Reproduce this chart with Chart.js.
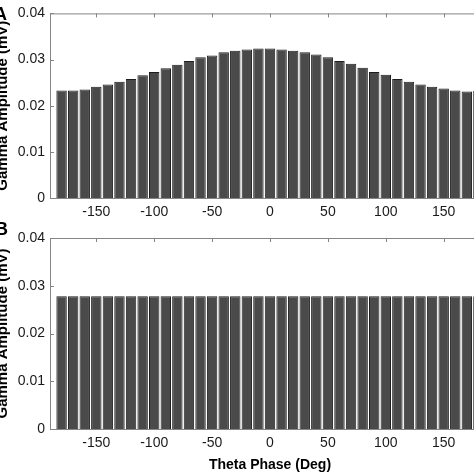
<!DOCTYPE html>
<html>
<head>
<meta charset="utf-8">
<script src="https://cdn.jsdelivr.net/npm/chart.js@4.4.1/dist/chart.umd.min.js"></script>
<style>
  html, body { margin: 0; padding: 0; background: #fff; overflow: hidden; width: 474px; height: 474px; }
  canvas { position: absolute; }
  #chartA { left: -6px; top: 0px; }
  #chartB { left: -6px; top: 216px; }
</style>
</head>
<body>
<canvas id="chartA" width="504" height="224"></canvas>
<canvas id="chartB" width="504" height="258"></canvas>
<script>
// theta phase bins (deg)
const phases = [-180, -170, -160, -150, -140, -130, -120, -110, -100, -90, -80, -70, -60, -50, -40, -30, -20, -10,
  0, 10, 20, 30, 40, 50, 60, 70, 80, 90, 100, 110, 120, 130, 140, 150, 160, 170, 180];
// panel A: gamma amplitude per phase bin (mV)
const ampA = [0.0233, 0.0233, 0.0235, 0.0241, 0.0246, 0.0252, 0.0258, 0.0266, 0.0273, 0.0281, 0.0289, 0.0297,
  0.0305, 0.0309, 0.0316, 0.0319, 0.0322, 0.0324, 0.0324, 0.0322, 0.0319, 0.0316, 0.0311, 0.0305, 0.0297,
  0.0291, 0.0282, 0.0273, 0.0267, 0.0258, 0.0252, 0.0246, 0.0241, 0.0237, 0.0233, 0.0231, 0.0232];
// panel B: flat amplitude
const ampB = [0.0278, 0.0278, 0.0278, 0.0278, 0.0278, 0.0278, 0.0278, 0.0278, 0.0278, 0.0278, 0.0278, 0.0278,
  0.0278, 0.0278, 0.0278, 0.0278, 0.0278, 0.0278, 0.0278, 0.0278, 0.0278, 0.0278, 0.0278, 0.0278, 0.0278,
  0.0278, 0.0278, 0.0278, 0.0278, 0.0278, 0.0278, 0.0278, 0.0278, 0.0278, 0.0278, 0.0278, 0.0278];
const xTicks = [-150, -100, -50, 0, 50, 100, 150];
const yTicks = [0, 0.01, 0.02, 0.03, 0.04];

const axisGray = '#858585';
const font = 'Arial, "Liberation Sans", sans-serif';

// matlab style box with inward ticks, plus the panel letter
const boxPlugin = {
  id: 'box',
  beforeDatasetsDraw(chart) {
    const a = chart.chartArea, ctx = chart.ctx;
    ctx.save();
    ctx.strokeStyle = axisGray;
    ctx.lineWidth = 1;
    ctx.strokeRect(a.left + 0.5, a.top + 0.5, a.right - a.left - 1, a.bottom - a.top);
    ctx.restore();
  },
  afterDatasetsDraw(chart, args, opts) {
    const a = chart.chartArea, ctx = chart.ctx;
    const xs = chart.scales.x, ys = chart.scales.y;
    ctx.save();
    ctx.strokeStyle = axisGray;
    ctx.lineWidth = 1;
    ctx.beginPath();
    xTicks.forEach(v => {
      const px = Math.round(xs.getPixelForValue(v)) + 0.5;
      ctx.moveTo(px, a.top);
      ctx.lineTo(px, a.top + 4);
    });
    yTicks.forEach(v => {
      const py = Math.round(ys.getPixelForValue(v)) + 0.5;
      ctx.moveTo(a.left, py);
      ctx.lineTo(a.left + 4, py);
    });
    ctx.stroke();
    ctx.fillStyle = '#000';
    ctx.font = 'bold 18px ' + font;
    ctx.textAlign = 'left';
    ctx.textBaseline = 'alphabetic';
    ctx.fillText(opts.letter, opts.lx, opts.ly);
    ctx.restore();
  }
};

function makePanel(id, values, letter, lx, ly, padTop, xHeight, showTitle) {
  new Chart(document.getElementById(id), {
    type: 'bar',
    data: {
      datasets: [{
        data: phases.map((p, i) => ({ x: p, y: values[i] })),
        backgroundColor: '#4a4a4a',
        borderColor: '#1e1e1e',
        borderWidth: 1,
        barPercentage: 0.9,
        categoryPercentage: 1.0
      }]
    },
    options: {
      responsive: false,
      animation: false,
      devicePixelRatio: 1,
      layout: { padding: { top: padTop, right: 8, left: 0, bottom: 0 } },
      plugins: {
        legend: { display: false },
        tooltip: { enabled: false },
        box: { letter: letter, lx: lx, ly: ly }
      },
      scales: {
        x: {
          type: 'linear',
          offset: false,
          min: -190,
          max: 190,
          grid: { display: false, drawTicks: false },
          border: { display: false },
          afterBuildTicks(scale) { scale.ticks = xTicks.map(v => ({ value: v })); },
          afterFit(scale) { scale.height = xHeight; },
          ticks: {
            padding: 6,
            color: '#1a1a1a',
            font: { family: font, size: 14 },
            maxRotation: 0,
            autoSkip: false
          },
          title: {
            display: showTitle,
            text: 'Theta Phase (Deg)',
            color: '#000',
            padding: 0,
            font: { family: font, size: 14, weight: 'bold' }
          }
        },
        y: {
          min: 0,
          max: 0.04,
          grid: { display: false, drawTicks: false },
          border: { display: false },
          afterBuildTicks(scale) { scale.ticks = yTicks.map(v => ({ value: v })); },
          afterFit(scale) { scale.width = 56; },
          ticks: {
            padding: 5,
            color: '#1a1a1a',
            font: { family: font, size: 14 },
            callback: v => (v === 0 ? '0' : v.toFixed(2))
          },
          title: {
            display: true,
            text: 'Gamma Amplitude (mV)',
            color: '#000',
            padding: 0,
            font: { family: font, size: 15, weight: 'bold' }
          }
        }
      }
    },
    plugins: [boxPlugin]
  });
}

makePanel('chartA', ampA, 'A', 0, 20, 7, 26, false);
makePanel('chartB', ampB, 'B', 1, 19, 22, 45, true);
</script>
</body>
</html>
